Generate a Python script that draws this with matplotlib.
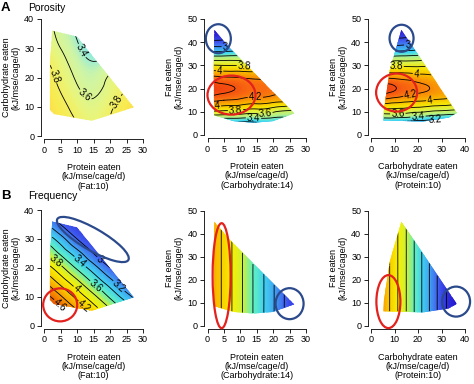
import numpy as np
import matplotlib
matplotlib.use("Agg")
import matplotlib.pyplot as plt
import matplotlib.transforms as mtransforms
from matplotlib.colors import LinearSegmentedColormap, Normalize, to_rgb
from matplotlib.patches import Polygon, Ellipse
from matplotlib.path import Path
from matplotlib.tri import Triangulation, UniformTriRefiner

plt.rcParams['font.family'] = ['Liberation Sans', 'DejaVu Sans']

# --- data -----------------------------------------------------------------
protein_ax = [0, 5, 10, 15, 20, 25, 30]
carb_ax = [0, 5, 10, 15, 20, 25, 30, 35, 40]
fat_ax = [0, 5, 10, 15, 20, 25, 30, 35, 40, 45, 50]

# regions of observed intake (same slice in A and B)
hull_fat10 = [(2.5, 36), (10, 34), (27.2, 9.8), (14.5, 5.2), (3, 7.5), (1.8, 9), (1.8, 25)]
hull_carb14 = [(2.1, 45.3), (6.7, 37.6), (26.4, 9.3), (20, 6), (14, 5.3), (8, 6), (2, 8.5), (1.9, 30)]
hull_prot10 = [(12.9, 45.3), (18.5, 37), (36.5, 9.5), (33, 7.5), (22, 5.8), (5.3, 6.3), (5.5, 11), (8, 28)]

# Porosity, rows = carbohydrate, cols = protein (fat 10)
por_prot_carb = [
    [4.02, 3.94, 3.84, 3.77, 3.86, 3.96, 4.05],
    [4.00, 3.90, 3.79, 3.71, 3.81, 3.92, 4.02],
    [3.98, 3.86, 3.72, 3.64, 3.76, 3.90, 4.00],
    [3.95, 3.80, 3.64, 3.57, 3.68, 3.82, 3.95],
    [3.90, 3.74, 3.57, 3.50, 3.63, 3.75, 3.88],
    [3.85, 3.68, 3.50, 3.41, 3.48, 3.58, 3.68],
    [3.74, 3.60, 3.43, 3.33, 3.36, 3.42, 3.50],
    [3.71, 3.54, 3.38, 3.30, 3.28, 3.30, 3.35],
    [3.67, 3.50, 3.33, 3.25, 3.22, 3.24, 3.30],
]
# Porosity, rows = fat, cols = protein (carbohydrate 14)
por_prot_fat = [
    [2.50, 2.50, 2.55, 2.60, 2.70, 2.80, 2.90],
    [3.10, 3.10, 3.12, 3.15, 3.20, 3.25, 3.30],
    [3.75, 3.75, 3.72, 3.68, 3.62, 3.55, 3.50],
    [4.20, 4.20, 4.16, 4.12, 4.08, 4.05, 4.00],
    [4.50, 4.45, 4.36, 4.30, 4.25, 4.20, 4.15],
    [4.20, 4.20, 4.18, 4.15, 4.12, 4.10, 4.10],
    [3.80, 3.80, 3.79, 3.78, 3.80, 3.82, 3.85],
    [3.30, 3.30, 3.32, 3.33, 3.36, 3.40, 3.45],
    [2.85, 2.86, 2.88, 2.90, 2.95, 3.00, 3.05],
    [2.60, 2.62, 2.64, 2.66, 2.70, 2.75, 2.80],
    [2.45, 2.45, 2.48, 2.50, 2.52, 2.55, 2.60],
]
# Porosity, rows = fat, cols = carbohydrate (protein 10)
por_carb_fat = [
    [2.50, 2.50, 2.52, 2.55, 2.60, 2.65, 2.70, 2.75, 2.80],
    [3.10, 3.10, 3.10, 3.08, 3.06, 3.04, 3.02, 3.00, 3.00],
    [3.68, 3.68, 3.68, 3.66, 3.62, 3.58, 3.55, 3.52, 3.50],
    [4.15, 4.15, 4.10, 4.06, 4.03, 4.00, 3.97, 3.94, 3.90],
    [4.52, 4.50, 4.42, 4.32, 4.25, 4.20, 4.15, 4.10, 4.05],
    [4.15, 4.15, 4.14, 4.12, 4.08, 4.05, 4.02, 4.00, 3.98],
    [3.78, 3.78, 3.77, 3.76, 3.76, 3.77, 3.78, 3.80, 3.82],
    [3.30, 3.30, 3.30, 3.32, 3.34, 3.37, 3.40, 3.44, 3.48],
    [2.88, 2.88, 2.90, 2.92, 2.95, 2.98, 3.02, 3.06, 3.10],
    [2.62, 2.62, 2.63, 2.65, 2.67, 2.70, 2.73, 2.76, 2.80],
    [2.45, 2.45, 2.46, 2.48, 2.50, 2.52, 2.55, 2.58, 2.60],
]
# Frequency, rows = carbohydrate, cols = protein (fat 10)
freq_prot_carb = [
    [5.28, 5.00, 4.71, 4.43, 4.14, 3.86, 3.57],
    [5.00, 4.71, 4.43, 4.14, 3.86, 3.57, 3.29],
    [4.71, 4.43, 4.14, 3.86, 3.57, 3.29, 3.00],
    [4.43, 4.14, 3.86, 3.57, 3.29, 3.00, 2.82],
    [4.14, 3.86, 3.57, 3.29, 3.00, 2.85, 2.82],
    [3.86, 3.57, 3.29, 3.00, 2.86, 2.84, 2.82],
    [3.57, 3.29, 3.00, 2.88, 2.86, 2.84, 2.82],
    [3.29, 3.00, 2.89, 2.88, 2.86, 2.84, 2.82],
    [3.00, 2.90, 2.89, 2.88, 2.86, 2.84, 2.82],
]
# Frequency only changes along the x nutrient in these two slices
freq_by_protein = [4.46, 4.15, 3.84, 3.53, 3.22, 2.91, 2.75]   # carbohydrate 14
freq_by_carb = [4.68, 4.38, 4.08, 3.80, 3.50, 3.19, 2.90, 2.68, 2.50]  # protein 10

# contour label spots (x, y) as printed in the figure
lab_a1 = [(10.9, 28.8), (13.1, 14.6), (3.0, 20.5), (22, 11.7)]
lab_a2 = [(5.4, 38), (11.2, 29), (3.7, 28), (14.6, 17), (3, 12.5), (8.5, 11.5), (17.5, 9), (14, 7)]
lab_a3 = [(15.7, 38), (10.7, 29.4), (19.3, 25.9), (17.1, 16.5), (25, 15.1), (11.4, 9.8),
          (20, 8.3), (27.9, 6.9)]
lab_b1 = [(3.8, 22.7), (10.9, 22.1), (16.8, 22.7), (16, 14.1), (23, 14.1), (10.4, 13.5),
          (4.8, 7.2), (12.9, 7.7)]

# --- colours ----------------------------------------------------------------
anchors_a = [(2.4, '#2000a0'), (2.6, '#2a10c8'), (2.9, '#4060f0'), (3.1, '#40a8f0'),
             (3.3, '#40dcf0'), (3.5, '#b8f080'), (3.7, '#e0f040'), (3.9, '#f8e000'),
             (4.1, '#f8a800'), (4.3, '#f86810'), (4.5, '#f04010'), (4.8, '#d82000')]
anchors_b = [(2.4, '#1800b0'), (2.6, '#2010c8'), (2.8, '#3030e0'), (3.0, '#4060f0'),
             (3.2, '#40a0f0'), (3.4, '#40d0f0'), (3.6, '#60f0c0'), (3.8, '#c8f040'),
             (4.0, '#f8f000'), (4.2, '#f8d000'), (4.4, '#f8a000'), (4.6, '#f07000'),
             (4.8, '#e04000'), (5.2, '#d02000')]


def make_cmap(anchors, lighten=0.0):
    lo, hi = anchors[0][0], anchors[-1][0]
    stops = []
    for v, c in anchors:
        rgb = np.array(to_rgb(c))
        stops.append(((v - lo) / (hi - lo), tuple(rgb + (1 - rgb) * lighten)))
    return LinearSegmentedColormap.from_list('rb', stops), Normalize(lo, hi)


cmap_a, norm_a = make_cmap(anchors_a)
cmap_a1, _ = make_cmap(anchors_a, lighten=0.3)
cmap_b, norm_b = make_cmap(anchors_b)
fill_levels = np.round(np.arange(1.0, 5.6, 0.02), 2)
line_levels = np.round(np.arange(2.0, 5.0, 0.2), 1)

fig = plt.figure(figsize=(4.74, 3.84), dpi=100)
W, H = 474, 384


def add_axes(x0, x1, ytop, ybot):
    return fig.add_axes([x0 / W, 1 - ybot / H, (x1 - x0) / W, (ybot - ytop) / H])


def surface(ax, xs, ys, z, hull, cmap, norm, labels=None):
    gx, gy = np.meshgrid(xs, ys)
    tri = Triangulation(gx.ravel(), gy.ravel())
    tri_f, z_f = UniformTriRefiner(tri).refine_field(np.asarray(z, float).ravel(), subdiv=3)
    shape = Polygon(hull, closed=True, transform=ax.transData)
    cf = ax.tricontourf(tri_f, z_f, levels=fill_levels, cmap=cmap, norm=norm)
    cf.set_clip_path(shape)
    cen = np.c_[tri_f.x[tri_f.triangles].mean(1), tri_f.y[tri_f.triangles].mean(1)]
    inside = Path(hull).contains_points(cen)
    tri_l = Triangulation(tri_f.x, tri_f.y, tri_f.triangles, mask=~inside)
    cs = ax.tricontour(tri_l, z_f, levels=line_levels, colors='black', linewidths=0.6)
    cs.set_clip_path(shape)
    if labels:
        ax.clabel(cs, fmt='%g', fontsize=7, inline=True, inline_spacing=1, manual=labels)


def style(ax, xmax, xstep, ymax, xlabel, ylabel):
    ax.set_xlim(0, xmax)
    ax.set_ylim(0, ymax)
    ax.set_xticks(np.arange(0, xmax + 1, xstep))
    ax.set_yticks(np.arange(0, ymax + 1, 10))
    for s in ['top', 'right']:
        ax.spines[s].set_visible(False)
    for s in ['left', 'bottom']:
        ax.spines[s].set_position(('outward', 2.5))
        ax.spines[s].set_linewidth(0.6)
    ax.tick_params(length=3, width=0.6, labelsize=6.5, pad=1.5)
    ax.set_xlabel(xlabel, fontsize=6.5, linespacing=1.05, labelpad=6)
    ax.set_ylabel(ylabel, fontsize=6.5, linespacing=1.05, labelpad=3)


def ring(ax, xy, w, h, color, angle=0):
    tr = fig.dpi_scale_trans + mtransforms.ScaledTranslation(xy[0], xy[1], ax.transData)
    ax.add_patch(Ellipse((0, 0), w / 100, h / 100, angle=angle, transform=tr,
                         fill=False, edgecolor=color, lw=1.6, clip_on=False, zorder=10))


RED, BLUE = '#e3211d', '#2b4a8c'
ylab_carb = 'Carbohydrate eaten\n(kJ/mse/cage/d)'
ylab_fat = 'Fat eaten\n(kJ/mse/cage/d)'

# ---- row A: porosity
ax = add_axes(44, 143, 19, 136)
surface(ax, protein_ax, carb_ax, por_prot_carb, hull_fat10, cmap_a1, norm_a, lab_a1)
style(ax, 30, 5, 40, 'Protein eaten\n(kJ/mse/cage/d)\n(Fat:10)', ylab_carb)

ax = add_axes(207.5, 306, 19, 135)
surface(ax, protein_ax, fat_ax, por_prot_fat, hull_carb14, cmap_a, norm_a, lab_a2)
style(ax, 30, 5, 50, 'Protein eaten\n(kJ/mse/cage/d)\n(Carbohydrate:14)', ylab_fat)
ring(ax, (3.3, 41.5), 25, 29, BLUE)
ring(ax, (7.3, 17.2), 48, 39, RED)

ax = add_axes(371, 465, 19, 135)
surface(ax, carb_ax, fat_ax, por_carb_fat, hull_prot10, cmap_a, norm_a, lab_a3)
style(ax, 40, 10, 50, 'Carbohydrate eaten\n(kJ/mse/cage/d)\n(Protein:10)', ylab_fat)
ring(ax, (13, 41.7), 24, 27, BLUE)
ring(ax, (10.9, 18.3), 41, 38, RED)

# ---- row B: frequency
ax = add_axes(44, 143, 210, 325.7)
surface(ax, protein_ax, carb_ax, freq_prot_carb, hull_fat10, cmap_b, norm_b, lab_b1)
style(ax, 30, 5, 40, 'Protein eaten\n(kJ/mse/cage/d)\n(Fat:10)', ylab_carb)
ring(ax, (14.8, 29.8), 82, 22, BLUE, angle=-30)
ring(ax, (4.9, 7.2), 34, 33, RED)

ax = add_axes(207.5, 306, 211, 325.7)
surface(ax, protein_ax, fat_ax, np.tile(freq_by_protein, (len(fat_ax), 1)), hull_carb14,
        cmap_b, norm_b)
style(ax, 30, 5, 50, 'Protein eaten\n(kJ/mse/cage/d)\n(Carbohydrate:14)', ylab_fat)
ring(ax, (4.3, 21.8), 18, 105, RED)
ring(ax, (25, 9.6), 28, 31, BLUE)

ax = add_axes(371, 465, 211, 325.7)
surface(ax, carb_ax, fat_ax, np.tile(freq_by_carb, (len(fat_ax), 1)), hull_prot10,
        cmap_b, norm_b)
style(ax, 40, 10, 50, 'Carbohydrate eaten\n(kJ/mse/cage/d)\n(Protein:10)', ylab_fat)
ring(ax, (7.4, 10.5), 24, 53, RED)
ring(ax, (36.2, 10.5), 28, 30, BLUE)

fig.text(1 / W, 1 - 8 / H, 'A', fontsize=9.5, fontweight='bold', va='center')
fig.text(28 / W, 1 - 8 / H, 'Porosity', fontsize=7.5, va='center')
fig.text(1 / W, 1 - 196 / H, 'B', fontsize=9.5, fontweight='bold', va='center')
fig.text(28 / W, 1 - 196 / H, 'Frequency', fontsize=7.5, va='center')

fig.savefig('out.png', dpi=100)
